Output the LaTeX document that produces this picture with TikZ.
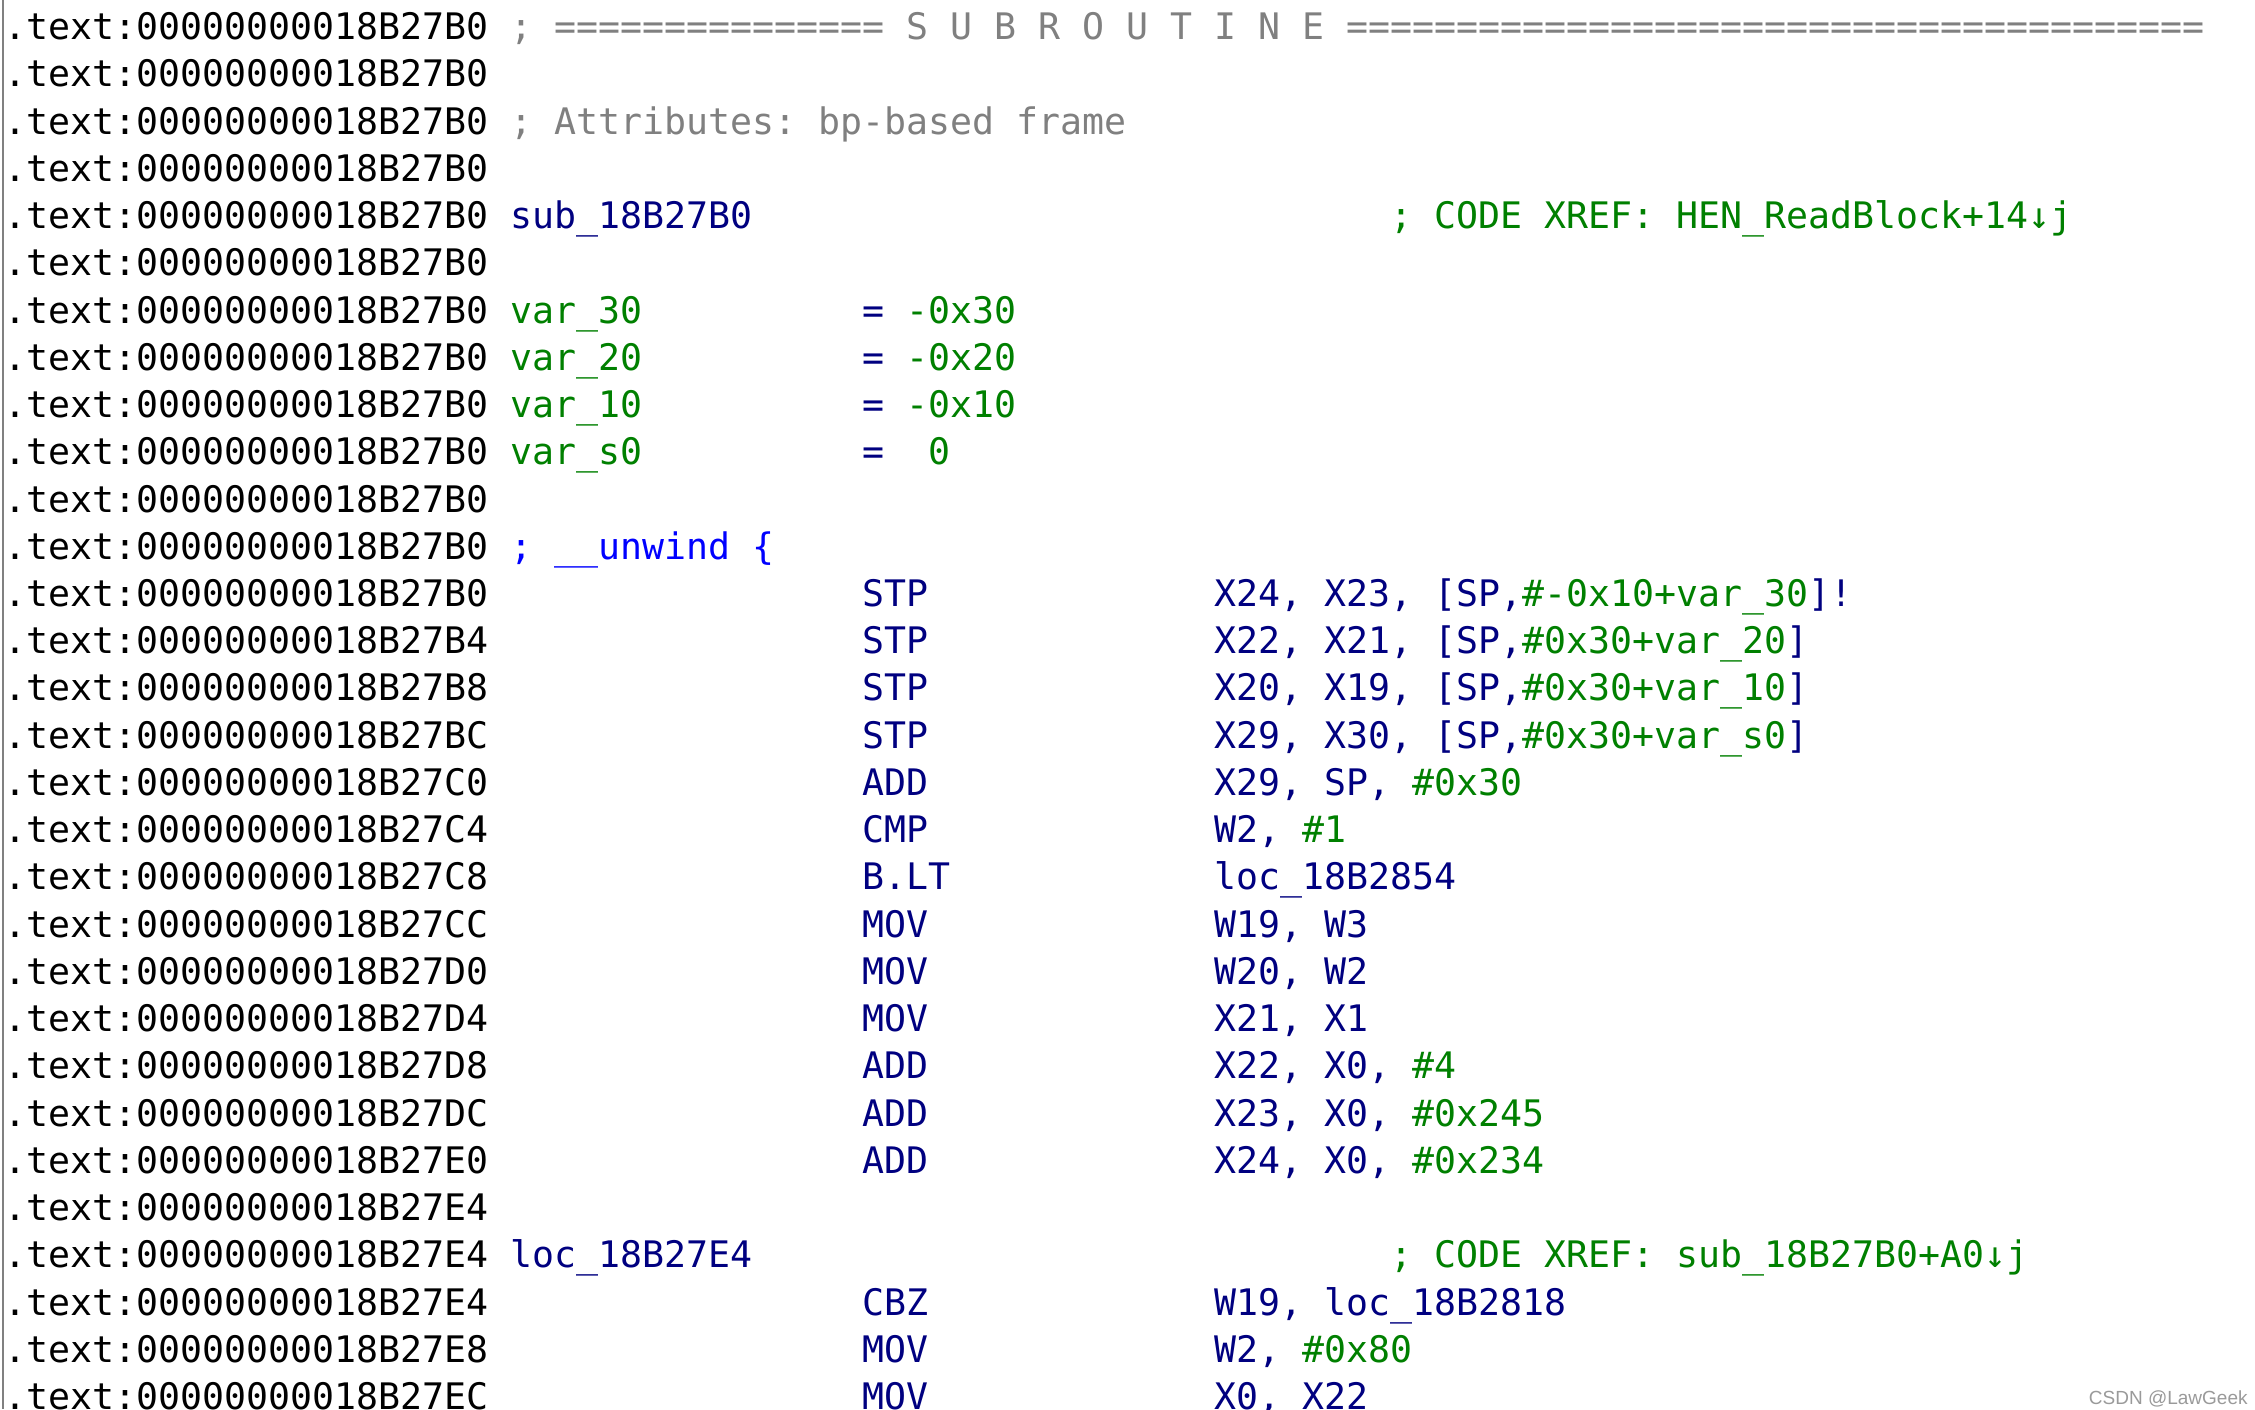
\documentclass[tikz,border=0pt]{standalone}
\usepackage{fontspec}
\newfontfamily\monof{DejaVu Sans Mono}
\newfontfamily\wmf{Liberation Sans}
\frenchspacing
\definecolor{inavy}{HTML}{000080}
\definecolor{igreen}{HTML}{008000}
\definecolor{igrey}{HTML}{808080}
\definecolor{iblue}{HTML}{0000FF}
\tikzset{txt/.style={anchor=base west,inner sep=0pt,font=\monof\fontsize{18.27}{20}\selectfont}}
\newcommand\R[4]{\node[txt,text=#3] (n#1x#2) at ({2pt+#2*11pt},{-(19.8pt+23.62pt*#1)}) {#4};}
\newcommand\A[2]{\R{#1}{0}{black}{.text:00000000018B27#2}}
\newcommand\G[1]{\textcolor{igreen}{#1}}
\begin{document}
\begin{tikzpicture}
\useasboundingbox (0,0) rectangle (1127.5pt,-704.5pt);
\fill[white] (0,0) rectangle (1127.5pt,-704.5pt);
\clip (0,0) rectangle (1127.5pt,-704.5pt);
\draw[igrey,line width=0.8pt] (1.5pt,0) -- (1.5pt,-704.5pt);
\A{0}{B0}\R{0}{23}{igrey}{; =============== S U B R O U T I N E =======================================}
\A{1}{B0}
\A{2}{B0}\R{2}{23}{igrey}{; Attributes: bp-based frame}
\A{3}{B0}
\A{4}{B0}\R{4}{23}{inavy}{sub\_18B27B0}\R{4}{63}{igreen}{; CODE XREF: HEN\_ReadBlock+14↓j}
\A{5}{B0}
\A{6}{B0}\R{6}{23}{igreen}{var\_30}\R{6}{39}{inavy}{= \G{-0x30}}
\A{7}{B0}\R{7}{23}{igreen}{var\_20}\R{7}{39}{inavy}{= \G{-0x20}}
\A{8}{B0}\R{8}{23}{igreen}{var\_10}\R{8}{39}{inavy}{= \G{-0x10}}
\A{9}{B0}\R{9}{23}{igreen}{var\_s0}\R{9}{39}{inavy}{=}\R{9}{42}{igreen}{0}
\A{10}{B0}
\A{11}{B0}\R{11}{23}{iblue}{; \_\_unwind \{}
\A{12}{B0}\R{12}{39}{inavy}{STP}\R{12}{55}{inavy}{X24, X23, [SP,\G{\#-0x10+var\_30}]!}
\A{13}{B4}\R{13}{39}{inavy}{STP}\R{13}{55}{inavy}{X22, X21, [SP,\G{\#0x30+var\_20}]}
\A{14}{B8}\R{14}{39}{inavy}{STP}\R{14}{55}{inavy}{X20, X19, [SP,\G{\#0x30+var\_10}]}
\A{15}{BC}\R{15}{39}{inavy}{STP}\R{15}{55}{inavy}{X29, X30, [SP,\G{\#0x30+var\_s0}]}
\A{16}{C0}\R{16}{39}{inavy}{ADD}\R{16}{55}{inavy}{X29, SP, \G{\#0x30}}
\A{17}{C4}\R{17}{39}{inavy}{CMP}\R{17}{55}{inavy}{W2, \G{\#1}}
\A{18}{C8}\R{18}{39}{inavy}{B.LT}\R{18}{55}{inavy}{loc\_18B2854}
\A{19}{CC}\R{19}{39}{inavy}{MOV}\R{19}{55}{inavy}{W19, W3}
\A{20}{D0}\R{20}{39}{inavy}{MOV}\R{20}{55}{inavy}{W20, W2}
\A{21}{D4}\R{21}{39}{inavy}{MOV}\R{21}{55}{inavy}{X21, X1}
\A{22}{D8}\R{22}{39}{inavy}{ADD}\R{22}{55}{inavy}{X22, X0, \G{\#4}}
\A{23}{DC}\R{23}{39}{inavy}{ADD}\R{23}{55}{inavy}{X23, X0, \G{\#0x245}}
\A{24}{E0}\R{24}{39}{inavy}{ADD}\R{24}{55}{inavy}{X24, X0, \G{\#0x234}}
\A{25}{E4}
\A{26}{E4}\R{26}{23}{inavy}{loc\_18B27E4}\R{26}{63}{igreen}{; CODE XREF: sub\_18B27B0+A0↓j}
\A{27}{E4}\R{27}{39}{inavy}{CBZ}\R{27}{55}{inavy}{W19, loc\_18B2818}
\A{28}{E8}\R{28}{39}{inavy}{MOV}\R{28}{55}{inavy}{W2, \G{\#0x80}}
\A{29}{EC}\R{29}{39}{inavy}{MOV}\R{29}{55}{inavy}{X0, X22}
\node[anchor=base east,inner sep=0pt,text=igrey!80,font=\wmf\fontsize{9.5}{10}\selectfont] (wm) at (1124pt,-702pt) {CSDN @LawGeek};
\end{tikzpicture}
\end{document}
